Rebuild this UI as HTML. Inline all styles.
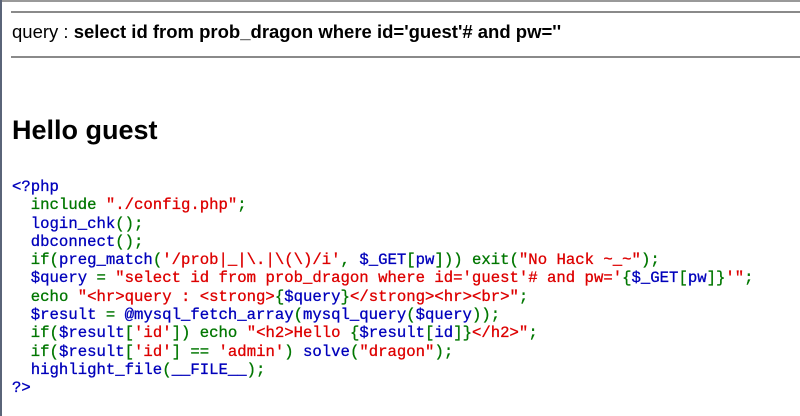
<!DOCTYPE html>
<html><head><meta charset="utf-8"><style>
html,body{margin:0;padding:0;background:#fff;width:800px;height:416px;overflow:hidden;position:relative}
.frameT{position:absolute;left:0;top:0;width:800px;height:2px;background:#999}
.frameL{position:absolute;left:0;top:0;width:2px;height:416px;background:#5a6478}
.hr{position:absolute;left:11px;width:789px;height:2px;background:#8a8a8a}
.q{position:absolute;left:12px;top:21px;font-family:"Liberation Sans","NanumGothic",sans-serif;font-size:18.5px;color:#000;white-space:pre}
h2{position:absolute;left:12px;top:115px;margin:0;font-family:"Liberation Sans","NanumGothic",sans-serif;font-size:27px;font-weight:bold;color:#000}
pre{position:absolute;left:12px;top:178px;margin:0;font-family:"Liberation Mono",monospace;font-size:15.65px;line-height:18.3px;color:#0000BB;-webkit-text-stroke:0.3px}
.g{color:#007700}.r{color:#DD0000}.b{color:#0000BB}
</style></head><body>
<div class="frameT"></div><div class="frameL"></div>
<div class="hr" style="top:11px"></div>
<div class="q">query : <b>select id from prob_dragon where id='guest'# and pw=''</b></div>
<div class="hr" style="top:56px"></div>
<h2>Hello guest</h2>
<pre>&lt;?php
  <span class="g">include </span><span class="r">"./config.php"</span><span class="g">;</span>
  login_chk<span class="g">();</span>
  dbconnect<span class="g">();</span>
  <span class="g">if(</span>preg_match<span class="g">(</span><span class="r">'/prob|_|\.|\(\)/i'</span><span class="g">, </span>$_GET<span class="g">[</span>pw<span class="g">])) exit(</span><span class="r">"No Hack ~_~"</span><span class="g">);</span>
  $query <span class="g">= </span><span class="r">"select id from prob_dragon where id='guest'# and pw='</span><span class="g">{</span>$_GET<span class="g">[</span>pw<span class="g">]}</span><span class="r">'"</span><span class="g">;</span>
  <span class="g">echo </span><span class="r">"&lt;hr&gt;query : &lt;strong&gt;</span><span class="g">{</span>$query<span class="g">}</span><span class="r">&lt;/strong&gt;&lt;hr&gt;&lt;br&gt;"</span><span class="g">;</span>
  $result <span class="g">= </span>@mysql_fetch_array<span class="g">(</span>mysql_query<span class="g">(</span>$query<span class="g">));</span>
  <span class="g">if(</span>$result<span class="g">[</span><span class="r">'id'</span><span class="g">]) echo </span><span class="r">"&lt;h2&gt;Hello </span><span class="g">{</span>$result<span class="g">[</span>id<span class="g">]}</span><span class="r">&lt;/h2&gt;"</span><span class="g">;</span>
  <span class="g">if(</span>$result<span class="g">[</span><span class="r">'id'</span><span class="g">] == </span><span class="r">'admin'</span><span class="g">) </span>solve<span class="g">(</span><span class="r">"dragon"</span><span class="g">);</span>
  highlight_file<span class="g">(</span>__FILE__<span class="g">);</span>
?&gt;</pre>
</body></html>
